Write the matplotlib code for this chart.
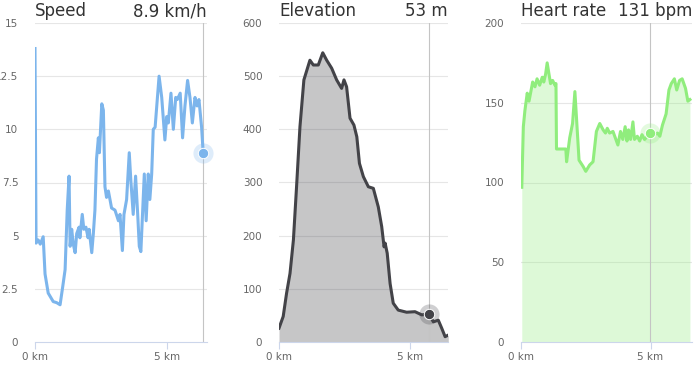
import matplotlib.pyplot as plt

# Speed (km/h) against distance (km)
speed_km = [0.0, 0.04, 0.12, 0.2, 0.31, 0.38, 0.5, 0.69, 0.82, 0.95, 1.05, 1.14, 1.22, 1.29, 1.33, 1.39,
            1.45, 1.52, 1.58, 1.67, 1.7, 1.79, 1.85, 1.93, 2.01, 2.05, 2.15, 2.21, 2.27, 2.33, 2.4,
            2.44, 2.53, 2.59, 2.65, 2.71, 2.78, 2.9, 3.03, 3.16, 3.22, 3.31, 3.37, 3.47, 3.57, 3.63,
            3.72, 3.81, 3.89, 3.95, 4.01, 4.14, 4.21, 4.29, 4.35, 4.42, 4.48, 4.55, 4.7, 4.8, 4.92,
            4.99, 5.05, 5.15, 5.24, 5.33, 5.39, 5.5, 5.59, 5.68, 5.78, 5.87, 5.96, 6.06, 6.14, 6.21,
            6.31, 6.37]
speed_val = [13.8, 4.65, 4.8, 4.6, 4.95, 3.2, 2.3, 1.9, 1.85, 1.75, 2.6, 3.4, 6.2, 7.8, 4.5, 5.3,
             4.6, 4.2, 5.1, 5.4, 4.9, 6.0, 5.3, 5.4, 4.9, 5.3, 4.2, 5.1, 6.2, 8.6, 9.6,
             8.9, 11.2, 10.9, 7.3, 6.8, 7.1, 6.3, 6.2, 5.7, 6.0, 4.3, 6.0, 6.7, 8.9, 7.6,
             6.0, 7.8, 6.0, 4.5, 4.25, 7.9, 5.7, 7.9, 6.7, 7.9, 10.0, 10.1, 12.5, 11.5, 9.5,
             10.6, 10.3, 11.7, 10.0, 11.5, 11.4, 11.7, 9.6, 11.1, 12.3, 11.5, 10.3, 11.5, 11.1, 11.4,
             10.1, 8.9]

# Elevation (m)
elev_km = [0.0, 0.16, 0.29, 0.42, 0.55, 0.67, 0.8, 0.95, 1.18, 1.31, 1.5, 1.67, 1.82, 2.01, 2.2,
           2.39, 2.48, 2.58, 2.71, 2.86, 2.97, 3.07, 3.22, 3.41, 3.6, 3.79, 3.92, 4.01, 4.05, 4.13,
           4.24, 4.36, 4.55, 4.87, 5.19, 5.45, 5.72, 5.89, 6.08, 6.21, 6.34, 6.46]
elev_val = [26, 48, 92, 129, 192, 292, 405, 493, 530, 521, 521, 544, 530, 515, 493,
            477, 493, 480, 421, 408, 386, 336, 311, 292, 289, 254, 217, 179, 186, 167,
            110, 73, 60, 56, 57, 51, 53, 38, 41, 26, 10, 13]

# Heart rate (bpm)
hr_km = [0.03, 0.09, 0.15, 0.24, 0.31, 0.45, 0.54, 0.62, 0.72, 0.82, 0.88, 0.95, 1.01, 1.09, 1.14,
         1.22, 1.31, 1.35, 1.37, 1.5, 1.73, 1.76, 1.88, 1.99, 2.08, 2.14, 2.24, 2.4, 2.5, 2.65,
         2.78, 2.91, 3.04, 3.17, 3.26, 3.33, 3.42, 3.55, 3.64, 3.74, 3.84, 3.93, 4.02, 4.09, 4.15,
         4.23, 4.32, 4.38, 4.49, 4.58, 4.67, 4.77, 4.98, 5.14, 5.27, 5.36, 5.46, 5.6, 5.71, 5.8,
         5.92, 6.01, 6.12, 6.22, 6.35, 6.44, 6.52]
hr_val = [97, 135, 145, 156, 151, 163, 160, 165, 161, 166, 163, 168, 175, 167, 162,
          164, 161, 162, 121, 121, 121, 113, 128, 137, 157, 141, 114, 110, 107, 111,
          113, 132, 137, 133, 131, 134, 131, 132, 128, 123.5, 132, 127, 135, 126, 133,
          127, 138, 127, 129, 126, 130, 127, 131, 130, 131, 129, 136, 143, 158, 162,
          165, 158, 164, 165, 159, 151, 152]

titles = ['Speed', 'Elevation', 'Heart rate']
readouts = ['8.9 km/h', '53 m', '131 bpm']
hover_km = [6.37, 5.72, 4.98]
hover_val = [8.9, 53, 131]
y_ticks = [[0, 2.5, 5, 7.5, 10, 12.5, 15], [0, 100, 200, 300, 400, 500, 600], [0, 50, 100, 150, 200]]
y_labels = [['0', '2.5', '5', '7.5', '10', '12.5', '15'],
            ['0', '100', '200', '300', '400', '500', '600'],
            ['0', '50', '100', '150', '200']]
x_ticks = [0, 5]
x_labels = ['0 km', '5 km']

colors = ['#7cb5ec', '#434348', '#90ed7d']
filled = [False, True, True]
xs = [speed_km, elev_km, hr_km]
ys = [speed_val, elev_val, hr_val]

# plot areas in pixels (left, right) and x range
px_left = [35, 279, 521]
px_right = [207, 448, 692]
x_max = [6.515, 6.45, 6.6]

fig = plt.figure(figsize=(7, 3.66), dpi=100)

for i in range(3):
    left = px_left[i] / 700
    width = (px_right[i] - px_left[i]) / 700
    ax = fig.add_axes([left, 24 / 366, width, 319 / 366])
    c = colors[i]

    ax.set_xlim(0, x_max[i])
    ax.set_ylim(y_ticks[i][0], y_ticks[i][-1])

    # grid and axes styling
    for t in y_ticks[i][1:]:
        ax.axhline(t, color='#e6e6e6', lw=0.8, zorder=0)
    for s in ['top', 'right', 'left']:
        ax.spines[s].set_visible(False)
    ax.spines['bottom'].set_color('#ccd6eb')
    ax.spines['bottom'].set_linewidth(0.8)
    ax.set_yticks(y_ticks[i])
    ax.set_yticklabels(y_labels[i])
    ax.set_xticks(x_ticks)
    ax.set_xticklabels(x_labels)
    ax.tick_params(axis='y', length=0, pad=12, labelsize=7.5, labelcolor='#666666')
    ax.tick_params(axis='x', length=5, width=0.8, color='#ccd6eb', pad=2,
                   labelsize=7.5, labelcolor='#666666')

    # data
    if filled[i]:
        ax.fill_between(xs[i], ys[i], 0, color=c, alpha=0.3, lw=0, zorder=1)
    ax.axvline(hover_km[i], color='#c4c4c4', lw=0.8, zorder=2)
    ax.plot(xs[i], ys[i], color=c, lw=2.2, solid_joinstyle='round', zorder=3)

    # hover marker with halo
    ax.plot(hover_km[i], hover_val[i], 'o', ms=14.5, color=c, alpha=0.25, mew=0, zorder=4, clip_on=False)
    ax.plot(hover_km[i], hover_val[i], 'o', ms=7.5, color=c, mec='white', mew=0.7, zorder=5, clip_on=False)

    ax.set_title(titles[i], loc='left', fontsize=12, color='#333333', pad=5)
    ax.set_title(readouts[i], loc='right', fontsize=12, color='#333333', pad=5)

plt.savefig('out.png', dpi=100)
